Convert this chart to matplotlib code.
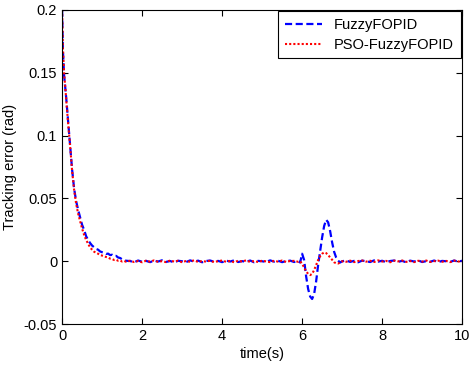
import matplotlib
matplotlib.use("Agg")
import matplotlib.pyplot as plt

plt.rcParams['font.family'] = ['Liberation Sans', 'DejaVu Sans']

# time (s)
t = [0, 0.02, 0.05, 0.1, 0.15, 0.2, 0.25, 0.3, 0.35, 0.4, 0.45, 0.5, 0.55, 0.6,
     0.65, 0.7, 0.75, 0.8, 0.85, 0.9, 0.95, 1.0, 1.05, 1.1, 1.15, 1.2, 1.25, 1.3,
     1.35, 1.4, 1.45, 1.5, 1.55, 1.6,
     1.7, 1.8, 1.9, 2.0, 2.1, 2.2, 2.3, 2.4, 2.5, 2.6, 2.7, 2.8, 2.9, 3.0,
     3.1, 3.2, 3.3, 3.4, 3.5, 3.6, 3.7, 3.8, 3.9, 4.0, 4.1, 4.2, 4.3, 4.4,
     4.5, 4.6, 4.7, 4.8, 4.9, 5.0, 5.1, 5.2, 5.3, 5.4, 5.5, 5.6, 5.7, 5.8,
     5.9, 5.95, 6.0, 6.05, 6.1, 6.15, 6.2, 6.25, 6.3, 6.35, 6.4, 6.45, 6.5,
     6.55, 6.6, 6.65, 6.7, 6.75, 6.8, 6.85, 6.9, 6.95, 7.0,
     7.1, 7.2, 7.3, 7.4, 7.5, 7.6, 7.7, 7.8, 7.9, 8.0, 8.1, 8.2, 8.3, 8.4,
     8.5, 8.6, 8.7, 8.8, 8.9, 9.0, 9.1, 9.2, 9.3, 9.4, 9.5, 9.6, 9.7, 9.8,
     9.9, 10.0]

fuzzy = [0.2, 0.168, 0.148, 0.131, 0.112, 0.094, 0.073, 0.058, 0.048, 0.041,
         0.035, 0.029, 0.025, 0.020, 0.017, 0.0145, 0.0125, 0.0112, 0.0098,
         0.0092, 0.0078, 0.0072, 0.0066, 0.0058, 0.0061, 0.0049, 0.0052,
         0.0041, 0.0043, 0.0030, 0.0026, 0.0016, 0.0012, 0.0004,
         0.0002, -0.0008, 0.0006, -0.0004, 0.0003, -0.0007, 0.0005, -0.0002,
         0.0008, -0.0005, 0.0002, -0.0009, 0.0004, 0.0000, -0.0006, 0.0007,
         -0.0003, 0.0005, -0.0008, 0.0002, 0.0006, -0.0004, 0.0003, -0.0007,
         0.0005, -0.0002, 0.0007, -0.0006, 0.0001, -0.0004, 0.0006, -0.0008,
         0.0003, 0.0000, -0.0005, 0.0007, -0.0003, 0.0004, -0.0007, 0.0002,
         0.0005, -0.0006,
         0.0001, -0.0010, 0.0060, 0.0010, -0.0120, -0.0220, -0.0280, -0.0300,
         -0.0260, -0.0160, -0.0030, 0.0080, 0.0190, 0.0280, 0.0330, 0.0310,
         0.0240, 0.0150, 0.0075, 0.0030, 0.0005, -0.0010, 0.0000,
         0.0006, -0.0005, 0.0003, -0.0008, 0.0005, 0.0000, -0.0006, 0.0007,
         -0.0003, 0.0004, -0.0007, 0.0002, 0.0006, -0.0004, 0.0003, -0.0008,
         0.0005, -0.0002, 0.0007, -0.0006, 0.0001, -0.0004, 0.0006, -0.0007,
         0.0003, 0.0000, -0.0005, 0.0006, -0.0003, 0.0004]

pso_fuzzy = [0.2, 0.17, 0.15, 0.13, 0.11, 0.092, 0.072, 0.057, 0.046, 0.038,
             0.032, 0.026, 0.021, 0.017, 0.014, 0.011, 0.0092, 0.0076, 0.0068,
             0.0060, 0.0050, 0.0045, 0.0040, 0.0034, 0.0030, 0.0021, 0.0018,
             0.0010, 0.0012, 0.0004, 0.0006, -0.0002, 0.0003, -0.0004,
             0.0004, -0.0006, 0.0002, -0.0008, 0.0005, -0.0003, 0.0007, -0.0005,
             0.0001, -0.0007, 0.0006, -0.0002, 0.0004, -0.0008, 0.0003, -0.0004,
             0.0008, -0.0006, 0.0002, -0.0003, 0.0005, -0.0007, 0.0001, 0.0006,
             -0.0004, 0.0003, -0.0008, 0.0004, -0.0002, 0.0007, -0.0005, 0.0002,
             -0.0006, 0.0005, -0.0001, -0.0007, 0.0004, -0.0003, 0.0006, -0.0005,
             0.0002, 0.0003,
             -0.0004, 0.0000, -0.0020, -0.0050, -0.0080, -0.0100, -0.0110,
             -0.0100, -0.0070, -0.0030, 0.0010, 0.0040, 0.0060, 0.0070, 0.0065,
             0.0050, 0.0030, 0.0012, -0.0008, -0.0016, -0.0018, -0.0010, 0.0000,
             -0.0004, 0.0005, -0.0007, 0.0002, 0.0006, -0.0003, 0.0004, -0.0006,
             0.0007, -0.0002, 0.0003, -0.0008, 0.0005, -0.0001, 0.0006, -0.0005,
             0.0002, -0.0007, 0.0004, -0.0003, 0.0006, -0.0006, 0.0001, 0.0005,
             -0.0004, 0.0003, -0.0007, 0.0005, -0.0002, -0.0001]

xticks = [0, 2, 4, 6, 8, 10]
yticks = [-0.05, 0, 0.05, 0.1, 0.15, 0.2]
ytick_labels = ['-0.05', '0', '0.05', '0.1', '0.15', '0.2']

fig = plt.figure(figsize=(4.74, 3.65), dpi=100)
ax = fig.add_axes([0.131, 0.112, 0.844, 0.861])

ax.plot(t, fuzzy, linestyle=(0, (3.2, 1.6)), color='#0000ff', lw=1.6,
        label='FuzzyFOPID')
ax.plot(t, pso_fuzzy, linestyle=(0, (1, 1)), color='#ff0000', lw=1.5,
        label='PSO-FuzzyFOPID')

ax.set_xlim(0, 10)
ax.set_ylim(-0.05, 0.2)
ax.set_xticks(xticks)
ax.set_xticklabels([str(v) for v in xticks])
ax.set_yticks(yticks)
ax.set_yticklabels(ytick_labels)
ax.tick_params(direction='in', top=True, right=True, labelsize=10.5, length=4)
for s in ax.spines.values():
    s.set_linewidth(0.8)

ax.set_xlabel('time(s)', fontsize=10.5, labelpad=3)
ax.set_ylabel('Tracking error (rad)', fontsize=10.5, labelpad=5)

leg = ax.legend(loc='upper right', fontsize=10.5, fancybox=False,
                edgecolor='black', framealpha=1, handlelength=2.6,
                borderaxespad=0.1, borderpad=0.45, labelspacing=0.4)
leg.get_frame().set_linewidth(0.8)

fig.savefig('out.png', dpi=100)
